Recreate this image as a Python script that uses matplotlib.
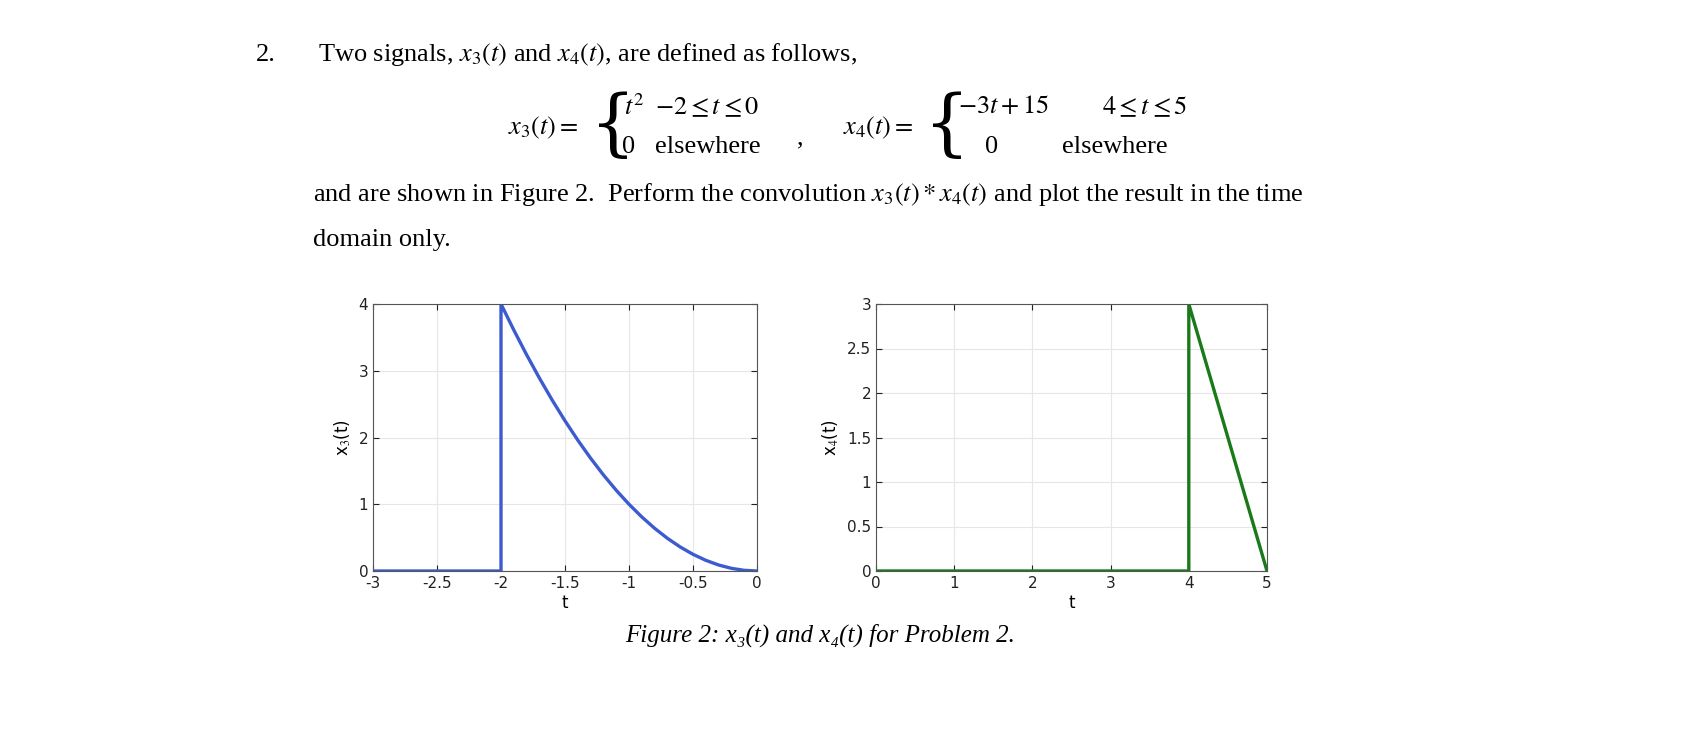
import matplotlib.pyplot as plt

plt.rcParams['mathtext.fontset'] = 'stix'

# x3(t) samples
t3 = [-3, -2, -2, -1.9, -1.8, -1.7, -1.6, -1.5, -1.4, -1.3, -1.2, -1.1, -1,
      -0.9, -0.8, -0.7, -0.6, -0.5, -0.4, -0.3, -0.2, -0.1, 0]
x3 = [0, 0, 4, 3.61, 3.24, 2.89, 2.56, 2.25, 1.96, 1.69, 1.44, 1.21, 1,
      0.81, 0.64, 0.49, 0.36, 0.25, 0.16, 0.09, 0.04, 0.01, 0]
# x4(t) samples
t4 = [0, 4, 4, 5]
x4 = [0, 0, 3, 0]

W, H = 1699, 755
fig = plt.figure(figsize=(W / 100, H / 100), dpi=100)

def px(x, y, s, **kw):
    kw.setdefault('fontsize', 19)
    kw.setdefault('family', 'Liberation Serif')
    kw.setdefault('va', 'center')
    fig.text(x / W, 1 - y / H, s, **kw)

px(256, 55, '2.')
px(318, 55, r'Two signals, $x_3(t)$ and $x_4(t)$, are defined as follows,')
# x3 definition
px(508, 128, r'$x_3(t) = $', fontsize=19)
px(590, 127, '{', fontsize=52, family='DejaVu Serif', fontweight='light')
px(624, 107, r'$t^2$')
px(655, 107, r'$-2 \leq t \leq 0$')
px(622, 147, '0')
px(655, 147, 'elsewhere')
px(797, 138, ',')
# x4 definition
px(843, 128, r'$x_4(t) = $', fontsize=19)
px(924, 127, '{', fontsize=52, family='DejaVu Serif', fontweight='light')
px(958, 107, r'$-3t+15$')
px(1102, 107, r'$4 \leq t \leq 5$')
px(985, 147, '0')
px(1062, 147, 'elsewhere')

px(313, 195, r'and are shown in Figure 2.  Perform the convolution $x_3(t) * x_4(t)$ and plot the result in the time')
px(313, 240, 'domain only.')
px(625, 635, 'Figure 2: x₃(t) and x₄(t) for Problem 2.', style='italic', fontsize=18)

def style(ax):
    ax.grid(True, color='#e6e6e6', linewidth=0.8)
    ax.set_axisbelow(True)
    for s in ax.spines.values():
        s.set_color('#555555')
        s.set_linewidth(0.8)
    ax.tick_params(direction='in', labelsize=11, colors='#222222', length=4,
                   top=True, right=True)
    ax.set_xlabel('t', fontsize=12, labelpad=2)

ax1 = fig.add_axes([373 / W, 1 - 571 / H, (757 - 373) / W, (571 - 304) / H])
ax1.plot(t3, x3, color='#3c5bd0', linewidth=2.4)
ax1.set_xlim(-3, 0)
ax1.set_ylim(0, 4)
ax1.set_xticks([-3, -2.5, -2, -1.5, -1, -0.5, 0])
ax1.set_xticklabels(['-3', '-2.5', '-2', '-1.5', '-1', '-0.5', '0'])
ax1.set_yticks([0, 1, 2, 3, 4])
ax1.set_ylabel(r'x$_3$(t)', fontsize=12)
style(ax1)

ax2 = fig.add_axes([876 / W, 1 - 571 / H, (1267 - 876) / W, (571 - 304) / H])
ax2.plot(t4, x4, color='#1a7a1a', linewidth=2.4)
ax2.set_xlim(0, 5)
ax2.set_ylim(0, 3)
ax2.set_xticks([0, 1, 2, 3, 4, 5])
ax2.set_yticks([0, 0.5, 1, 1.5, 2, 2.5, 3])
ax2.set_yticklabels(['0', '0.5', '1', '1.5', '2', '2.5', '3'])
ax2.set_ylabel(r'x$_4$(t)', fontsize=12)
style(ax2)

fig.savefig('out.png', dpi=100)
